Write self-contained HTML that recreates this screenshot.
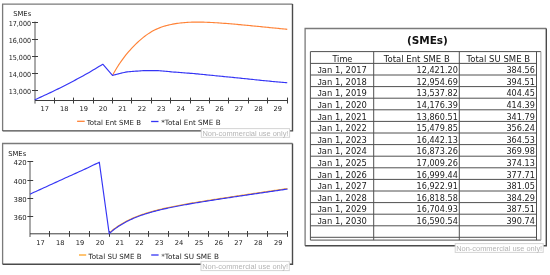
<!DOCTYPE html>
<html><head><meta charset="utf-8"><title>SMEs</title>
<style>html,body{margin:0;padding:0;background:#fff;width:550px;height:275px;overflow:hidden}</style>
</head><body>
<svg width="550" height="275" viewBox="0 0 550 275" style="position:absolute;left:0;top:0" font-family="&#39;DejaVu Sans&#39;, &#39;Liberation Sans&#39;, sans-serif" font-size="7" fill="#1a1a1a">
<rect x="0" y="0" width="550" height="275" fill="#ffffff"/>
<path d="M2.6,130.9 L2.6,4.1 L292.5,4.1" fill="none" stroke="#7a7a7a" stroke-width="1.3"/>
<path d="M292.5,4.1 L292.5,130.9 L2.6,130.9" fill="none" stroke="#4a4a4a" stroke-width="1.4"/>
<path d="M2.6,264.3 L2.6,143.5 L292.5,143.5" fill="none" stroke="#7a7a7a" stroke-width="1.3"/>
<path d="M292.5,143.5 L292.5,264.3 L2.6,264.3" fill="none" stroke="#4a4a4a" stroke-width="1.4"/>
<path d="M305.1,245.8 L305.1,28.5 L546.3,28.5" fill="none" stroke="#7a7a7a" stroke-width="1.3"/>
<path d="M546.3,28.5 L546.3,245.8 L305.1,245.8" fill="none" stroke="#4a4a4a" stroke-width="1.4"/>
<line x1="35.0" y1="21.6" x2="35.0" y2="103.6" stroke="#555" stroke-width="1"/>
<line x1="35" y1="100.5" x2="287.6" y2="100.5" stroke="#3c3c3c" stroke-width="1"/>
<line x1="32" y1="22.5" x2="38" y2="22.5" stroke="#3c3c3c" stroke-width="1"/>
<text x="31.0" y="25.6" text-anchor="end" textLength="22.3" lengthAdjust="spacingAndGlyphs">17,000</text>
<line x1="32" y1="39.5" x2="38" y2="39.5" stroke="#3c3c3c" stroke-width="1"/>
<text x="31.0" y="42.6" text-anchor="end" textLength="22.3" lengthAdjust="spacingAndGlyphs">16,000</text>
<line x1="32" y1="56.5" x2="38" y2="56.5" stroke="#3c3c3c" stroke-width="1"/>
<text x="31.0" y="59.6" text-anchor="end" textLength="22.3" lengthAdjust="spacingAndGlyphs">15,000</text>
<line x1="32" y1="73.5" x2="38" y2="73.5" stroke="#3c3c3c" stroke-width="1"/>
<text x="31.0" y="76.6" text-anchor="end" textLength="22.3" lengthAdjust="spacingAndGlyphs">14,000</text>
<line x1="32" y1="90.5" x2="38" y2="90.5" stroke="#3c3c3c" stroke-width="1"/>
<text x="31.0" y="93.6" text-anchor="end" textLength="22.3" lengthAdjust="spacingAndGlyphs">13,000</text>
<line x1="54.5" y1="97.6" x2="54.5" y2="103.5" stroke="#3c3c3c" stroke-width="1"/>
<line x1="73.5" y1="97.6" x2="73.5" y2="103.5" stroke="#3c3c3c" stroke-width="1"/>
<line x1="93.5" y1="97.6" x2="93.5" y2="103.5" stroke="#3c3c3c" stroke-width="1"/>
<line x1="112.5" y1="97.6" x2="112.5" y2="103.5" stroke="#3c3c3c" stroke-width="1"/>
<line x1="131.5" y1="97.6" x2="131.5" y2="103.5" stroke="#3c3c3c" stroke-width="1"/>
<line x1="151.5" y1="97.6" x2="151.5" y2="103.5" stroke="#3c3c3c" stroke-width="1"/>
<line x1="170.5" y1="97.6" x2="170.5" y2="103.5" stroke="#3c3c3c" stroke-width="1"/>
<line x1="190.5" y1="97.6" x2="190.5" y2="103.5" stroke="#3c3c3c" stroke-width="1"/>
<line x1="209.5" y1="97.6" x2="209.5" y2="103.5" stroke="#3c3c3c" stroke-width="1"/>
<line x1="228.5" y1="97.6" x2="228.5" y2="103.5" stroke="#3c3c3c" stroke-width="1"/>
<line x1="248.5" y1="97.6" x2="248.5" y2="103.5" stroke="#3c3c3c" stroke-width="1"/>
<line x1="267.5" y1="97.6" x2="267.5" y2="103.5" stroke="#3c3c3c" stroke-width="1"/>
<line x1="287.5" y1="97.6" x2="287.5" y2="103.5" stroke="#3c3c3c" stroke-width="1"/>
<text x="44.81" y="111.3" font-size="6.7" text-anchor="middle">17</text>
<text x="64.23" y="111.3" font-size="6.7" text-anchor="middle">18</text>
<text x="83.65" y="111.3" font-size="6.7" text-anchor="middle">19</text>
<text x="103.07" y="111.3" font-size="6.7" text-anchor="middle">20</text>
<text x="122.49" y="111.3" font-size="6.7" text-anchor="middle">21</text>
<text x="141.91" y="111.3" font-size="6.7" text-anchor="middle">22</text>
<text x="161.33" y="111.3" font-size="6.7" text-anchor="middle">23</text>
<text x="180.75" y="111.3" font-size="6.7" text-anchor="middle">24</text>
<text x="200.17" y="111.3" font-size="6.7" text-anchor="middle">25</text>
<text x="219.59" y="111.3" font-size="6.7" text-anchor="middle">26</text>
<text x="239.01" y="111.3" font-size="6.7" text-anchor="middle">27</text>
<text x="258.43" y="111.3" font-size="6.7" text-anchor="middle">28</text>
<text x="277.85" y="111.3" font-size="6.7" text-anchor="middle">29</text>
<text x="22.2" y="15.8" font-size="6.8" text-anchor="middle">SMEs</text>
<line x1="77.1" y1="121.3" x2="84.7" y2="121.3" stroke="#ff8236" stroke-width="1.3"/>
<text x="86.7" y="125.0">Total Ent SME B</text>
<line x1="151.1" y1="121.5" x2="158.5" y2="121.5" stroke="#3535f5" stroke-width="1.3"/>
<text x="161.2" y="125.0" font-size="7.2">*Total Ent SME B</text>
<path d="M112.48,75.46 L113.95,72.77 L115.42,70.21 L116.89,67.77 L118.35,65.44 L119.82,63.21 L121.29,61.08 L122.76,59.05 L124.23,57.10 L125.70,55.23 L127.17,53.44 L128.64,51.71 L130.10,50.05 L131.57,48.44 L133.04,46.88 L134.51,45.37 L135.98,43.91 L137.45,42.50 L138.92,41.15 L140.39,39.84 L141.85,38.59 L143.32,37.39 L144.79,36.24 L146.26,35.15 L147.73,34.12 L149.20,33.14 L150.67,32.22 L152.14,31.36 L153.60,30.55 L155.07,29.80 L156.54,29.11 L158.01,28.46 L159.48,27.86 L160.95,27.30 L162.42,26.79 L163.89,26.31 L165.35,25.88 L166.82,25.47 L168.29,25.10 L169.76,24.76 L171.23,24.44 L172.70,24.15 L174.17,23.88 L175.64,23.63 L177.10,23.41 L178.57,23.20 L180.04,23.02 L181.51,22.86 L182.98,22.71 L184.45,22.59 L185.92,22.48 L187.39,22.38 L188.85,22.30 L190.32,22.24 L191.79,22.19 L193.26,22.15 L194.73,22.12 L196.20,22.11 L197.67,22.10 L199.14,22.11 L200.60,22.13 L202.07,22.15 L203.54,22.19 L205.01,22.23 L206.48,22.28 L207.95,22.34 L209.42,22.40 L210.89,22.47 L212.35,22.55 L213.82,22.63 L215.29,22.71 L216.76,22.80 L218.23,22.90 L219.70,23.00 L221.17,23.10 L222.64,23.20 L224.10,23.31 L225.57,23.43 L227.04,23.54 L228.51,23.66 L229.98,23.78 L231.45,23.91 L232.92,24.03 L234.39,24.16 L235.85,24.29 L237.32,24.42 L238.79,24.56 L240.26,24.69 L241.73,24.83 L243.20,24.97 L244.67,25.11 L246.14,25.25 L247.60,25.39 L249.07,25.53 L250.54,25.67 L252.01,25.82 L253.48,25.96 L254.95,26.10 L256.42,26.25 L257.89,26.39 L259.35,26.54 L260.82,26.69 L262.29,26.83 L263.76,26.98 L265.23,27.13 L266.70,27.27 L268.17,27.42 L269.64,27.57 L271.10,27.71 L272.57,27.86 L274.04,28.00 L275.51,28.15 L276.98,28.30 L278.45,28.44 L279.92,28.59 L281.39,28.74 L282.85,28.88 L284.32,29.03 L285.79,29.17 L287.26,29.32" fill="none" stroke="#ff8236" stroke-width="1.15" stroke-linejoin="round"/>
<path d="M34.80,99.78 L36.74,98.90 L38.68,98.01 L40.63,97.13 L42.57,96.24 L44.51,95.34 L46.45,94.44 L48.39,93.54 L50.34,92.62 L52.28,91.70 L54.22,90.77 L56.16,89.82 L58.10,88.87 L60.05,87.91 L61.99,86.93 L63.93,85.95 L65.87,84.96 L67.81,83.96 L69.76,82.95 L71.70,81.93 L73.64,80.91 L75.58,79.88 L77.52,78.84 L79.47,77.79 L81.41,76.74 L83.35,75.67 L85.29,74.59 L87.23,73.49 L89.18,72.38 L91.12,71.26 L93.06,70.12 L95.00,68.96 L96.94,67.79 L98.89,66.61 L100.83,65.42 L102.77,64.23 L112.48,75.46 L113.95,75.02 L115.42,74.60 L116.89,74.20 L118.35,73.83 L119.82,73.48 L121.29,73.13 L122.76,72.78 L124.23,72.46 L125.70,72.17 L127.17,71.93 L128.64,71.75 L130.10,71.61 L131.57,71.49 L133.04,71.38 L134.51,71.28 L135.98,71.19 L137.45,71.10 L138.92,71.00 L140.39,70.89 L141.85,70.78 L143.32,70.69 L144.79,70.63 L146.26,70.60 L147.73,70.60 L149.20,70.60 L150.67,70.60 L152.14,70.60 L153.60,70.60 L155.07,70.60 L156.54,70.62 L158.01,70.67 L159.48,70.76 L160.95,70.86 L162.42,70.98 L163.89,71.09 L165.35,71.20 L166.82,71.34 L168.29,71.49 L169.76,71.65 L171.23,71.81 L172.70,71.95 L174.17,72.08 L175.64,72.19 L177.10,72.30 L178.57,72.41 L180.04,72.52 L181.51,72.63 L182.98,72.74 L184.45,72.85 L185.92,72.96 L187.39,73.08 L188.85,73.19 L190.32,73.31 L191.79,73.43 L193.26,73.55 L194.73,73.68 L196.20,73.81 L197.67,73.94 L199.14,74.07 L200.60,74.21 L202.07,74.36 L203.54,74.51 L205.01,74.66 L206.48,74.81 L207.95,74.97 L209.42,75.11 L210.89,75.26 L212.35,75.41 L213.82,75.55 L215.29,75.70 L216.76,75.84 L218.23,75.99 L219.70,76.13 L221.17,76.28 L222.64,76.42 L224.10,76.57 L225.57,76.71 L227.04,76.86 L228.51,77.00 L229.98,77.15 L231.45,77.29 L232.92,77.44 L234.39,77.58 L235.85,77.72 L237.32,77.87 L238.79,78.01 L240.26,78.16 L241.73,78.31 L243.20,78.46 L244.67,78.61 L246.14,78.76 L247.60,78.91 L249.07,79.07 L250.54,79.23 L252.01,79.39 L253.48,79.55 L254.95,79.71 L256.42,79.87 L257.89,80.02 L259.35,80.17 L260.82,80.33 L262.29,80.47 L263.76,80.62 L265.23,80.76 L266.70,80.90 L268.17,81.04 L269.64,81.18 L271.10,81.32 L272.57,81.45 L274.04,81.59 L275.51,81.72 L276.98,81.85 L278.45,81.98 L279.92,82.11 L281.39,82.24 L282.85,82.37 L284.32,82.49 L285.79,82.61 L287.26,82.73" fill="none" stroke="#3535f5" stroke-width="1.15" stroke-linejoin="round"/>
<line x1="30.0" y1="161.5" x2="30.0" y2="237" stroke="#555" stroke-width="1"/>
<line x1="30" y1="233.8" x2="287.8" y2="233.8" stroke="#3c3c3c" stroke-width="1"/>
<line x1="27.4" y1="161.5" x2="33.2" y2="161.5" stroke="#3c3c3c" stroke-width="1"/>
<text x="26.7" y="164.7" font-size="6.9" text-anchor="end">420</text>
<line x1="27.4" y1="180.5" x2="33.2" y2="180.5" stroke="#3c3c3c" stroke-width="1"/>
<text x="26.7" y="183.7" font-size="6.9" text-anchor="end">400</text>
<line x1="27.4" y1="198.5" x2="33.2" y2="198.5" stroke="#3c3c3c" stroke-width="1"/>
<text x="26.7" y="201.7" font-size="6.9" text-anchor="end">380</text>
<line x1="27.4" y1="216.5" x2="33.2" y2="216.5" stroke="#3c3c3c" stroke-width="1"/>
<text x="26.7" y="219.7" font-size="6.9" text-anchor="end">360</text>
<line x1="49.5" y1="231" x2="49.5" y2="236.8" stroke="#3c3c3c" stroke-width="1"/>
<line x1="69.5" y1="231" x2="69.5" y2="236.8" stroke="#3c3c3c" stroke-width="1"/>
<line x1="89.5" y1="231" x2="89.5" y2="236.8" stroke="#3c3c3c" stroke-width="1"/>
<line x1="109.5" y1="231" x2="109.5" y2="236.8" stroke="#3c3c3c" stroke-width="1"/>
<line x1="129.5" y1="231" x2="129.5" y2="236.8" stroke="#3c3c3c" stroke-width="1"/>
<line x1="148.5" y1="231" x2="148.5" y2="236.8" stroke="#3c3c3c" stroke-width="1"/>
<line x1="168.5" y1="231" x2="168.5" y2="236.8" stroke="#3c3c3c" stroke-width="1"/>
<line x1="188.5" y1="231" x2="188.5" y2="236.8" stroke="#3c3c3c" stroke-width="1"/>
<line x1="208.5" y1="231" x2="208.5" y2="236.8" stroke="#3c3c3c" stroke-width="1"/>
<line x1="228.5" y1="231" x2="228.5" y2="236.8" stroke="#3c3c3c" stroke-width="1"/>
<line x1="247.5" y1="231" x2="247.5" y2="236.8" stroke="#3c3c3c" stroke-width="1"/>
<line x1="267.5" y1="231" x2="267.5" y2="236.8" stroke="#3c3c3c" stroke-width="1"/>
<line x1="287.5" y1="231" x2="287.5" y2="236.8" stroke="#3c3c3c" stroke-width="1"/>
<text x="40.48" y="244.8" font-size="6.7" text-anchor="middle">17</text>
<text x="60.29" y="244.8" font-size="6.7" text-anchor="middle">18</text>
<text x="80.09" y="244.8" font-size="6.7" text-anchor="middle">19</text>
<text x="99.9" y="244.8" font-size="6.7" text-anchor="middle">20</text>
<text x="119.71" y="244.8" font-size="6.7" text-anchor="middle">21</text>
<text x="139.51" y="244.8" font-size="6.7" text-anchor="middle">22</text>
<text x="159.32" y="244.8" font-size="6.7" text-anchor="middle">23</text>
<text x="179.12" y="244.8" font-size="6.7" text-anchor="middle">24</text>
<text x="198.93" y="244.8" font-size="6.7" text-anchor="middle">25</text>
<text x="218.74" y="244.8" font-size="6.7" text-anchor="middle">26</text>
<text x="238.54" y="244.8" font-size="6.7" text-anchor="middle">27</text>
<text x="258.35" y="244.8" font-size="6.7" text-anchor="middle">28</text>
<text x="278.16" y="244.8" font-size="6.7" text-anchor="middle">29</text>
<text x="17.2" y="155.8" font-size="6.8" text-anchor="middle">SMEs</text>
<line x1="79" y1="255" x2="86.2" y2="255" stroke="#ffa426" stroke-width="1.3"/>
<text x="88.6" y="258.7" font-size="7.1">Total SU SME B</text>
<line x1="151.2" y1="255" x2="158.6" y2="255" stroke="#3535f5" stroke-width="1.3"/>
<text x="161.2" y="258.7" font-size="7.25">*Total SU SME B</text>
<path d="M109.20,233.08 L110.49,231.95 L111.77,230.86 L113.05,229.82 L114.33,228.82 L115.62,227.87 L116.90,226.95 L118.18,226.07 L119.46,225.23 L120.75,224.42 L122.03,223.64 L123.31,222.89 L124.59,222.17 L125.88,221.48 L127.16,220.81 L128.44,220.17 L129.72,219.55 L131.00,218.95 L132.29,218.37 L133.57,217.81 L134.85,217.27 L136.13,216.75 L137.42,216.25 L138.70,215.76 L139.98,215.29 L141.26,214.83 L142.55,214.39 L143.83,213.96 L145.11,213.54 L146.39,213.13 L147.68,212.74 L148.96,212.35 L150.24,211.98 L151.52,211.61 L152.81,211.26 L154.09,210.91 L155.37,210.57 L156.65,210.24 L157.94,209.91 L159.22,209.60 L160.50,209.29 L161.78,208.98 L163.06,208.68 L164.35,208.39 L165.63,208.10 L166.91,207.82 L168.19,207.55 L169.48,207.27 L170.76,207.00 L172.04,206.74 L173.32,206.48 L174.61,206.23 L175.89,205.97 L177.17,205.72 L178.45,205.48 L179.74,205.23 L181.02,204.99 L182.30,204.76 L183.58,204.52 L184.87,204.29 L186.15,204.06 L187.43,203.83 L188.71,203.61 L190.00,203.38 L191.28,203.16 L192.56,202.94 L193.84,202.72 L195.12,202.51 L196.41,202.29 L197.69,202.08 L198.97,201.87 L200.25,201.66 L201.54,201.45 L202.82,201.24 L204.10,201.03 L205.38,200.83 L206.67,200.62 L207.95,200.42 L209.23,200.21 L210.51,200.01 L211.80,199.81 L213.08,199.61 L214.36,199.41 L215.64,199.21 L216.93,199.01 L218.21,198.81 L219.49,198.62 L220.77,198.42 L222.06,198.22 L223.34,198.03 L224.62,197.83 L225.90,197.64 L227.19,197.45 L228.47,197.25 L229.75,197.06 L231.03,196.87 L232.31,196.67 L233.60,196.48 L234.88,196.29 L236.16,196.10 L237.44,195.91 L238.73,195.71 L240.01,195.52 L241.29,195.33 L242.57,195.14 L243.86,194.95 L245.14,194.76 L246.42,194.57 L247.70,194.38 L248.99,194.19 L250.27,194.01 L251.55,193.82 L252.83,193.63 L254.12,193.44 L255.40,193.25 L256.68,193.06 L257.96,192.87 L259.25,192.69 L260.53,192.50 L261.81,192.31 L263.09,192.12 L264.37,191.93 L265.66,191.75 L266.94,191.56 L268.22,191.37 L269.50,191.18 L270.79,191.00 L272.07,190.81 L273.35,190.62 L274.63,190.44 L275.92,190.25 L277.20,190.06 L278.48,189.88 L279.76,189.69 L281.05,189.50 L282.33,189.32 L283.61,189.13 L284.89,188.94 L286.18,188.76 L287.46,188.57" fill="none" stroke="#ffa426" stroke-width="1.15" stroke-linejoin="round"/>
<path d="M29.98,194.15 L31.96,193.25 L33.94,192.34 L35.92,191.44 L37.90,190.53 L39.88,189.63 L41.86,188.72 L43.84,187.82 L45.82,186.91 L47.81,186.00 L49.79,185.10 L51.77,184.19 L53.75,183.28 L55.73,182.37 L57.71,181.46 L59.69,180.56 L61.67,179.65 L63.65,178.75 L65.63,177.84 L67.61,176.95 L69.59,176.05 L71.57,175.16 L73.55,174.27 L75.53,173.38 L77.51,172.49 L79.50,171.59 L81.48,170.69 L83.46,169.78 L85.44,168.87 L87.42,167.94 L89.40,167.01 L91.38,166.05 L93.36,165.09 L95.34,164.12 L97.32,163.15 L99.30,162.17 L109.20,233.58 L110.49,232.45 L111.77,231.36 L113.05,230.32 L114.33,229.32 L115.62,228.37 L116.90,227.45 L118.18,226.57 L119.46,225.73 L120.75,224.92 L122.03,224.14 L123.31,223.39 L124.59,222.67 L125.88,221.98 L127.16,221.31 L128.44,220.67 L129.72,220.05 L131.00,219.45 L132.29,218.87 L133.57,218.31 L134.85,217.77 L136.13,217.25 L137.42,216.75 L138.70,216.26 L139.98,215.79 L141.26,215.33 L142.55,214.89 L143.83,214.46 L145.11,214.04 L146.39,213.63 L147.68,213.24 L148.96,212.85 L150.24,212.48 L151.52,212.11 L152.81,211.76 L154.09,211.41 L155.37,211.07 L156.65,210.74 L157.94,210.41 L159.22,210.10 L160.50,209.79 L161.78,209.48 L163.06,209.18 L164.35,208.89 L165.63,208.60 L166.91,208.32 L168.19,208.05 L169.48,207.77 L170.76,207.50 L172.04,207.24 L173.32,206.98 L174.61,206.73 L175.89,206.47 L177.17,206.22 L178.45,205.98 L179.74,205.73 L181.02,205.49 L182.30,205.26 L183.58,205.02 L184.87,204.79 L186.15,204.56 L187.43,204.33 L188.71,204.11 L190.00,203.88 L191.28,203.66 L192.56,203.44 L193.84,203.22 L195.12,203.01 L196.41,202.79 L197.69,202.58 L198.97,202.37 L200.25,202.16 L201.54,201.95 L202.82,201.74 L204.10,201.53 L205.38,201.33 L206.67,201.12 L207.95,200.92 L209.23,200.71 L210.51,200.51 L211.80,200.31 L213.08,200.11 L214.36,199.91 L215.64,199.71 L216.93,199.51 L218.21,199.31 L219.49,199.12 L220.77,198.92 L222.06,198.72 L223.34,198.53 L224.62,198.33 L225.90,198.14 L227.19,197.95 L228.47,197.75 L229.75,197.56 L231.03,197.37 L232.31,197.17 L233.60,196.98 L234.88,196.79 L236.16,196.60 L237.44,196.41 L238.73,196.21 L240.01,196.02 L241.29,195.83 L242.57,195.64 L243.86,195.45 L245.14,195.26 L246.42,195.07 L247.70,194.88 L248.99,194.69 L250.27,194.51 L251.55,194.32 L252.83,194.13 L254.12,193.94 L255.40,193.75 L256.68,193.56 L257.96,193.37 L259.25,193.19 L260.53,193.00 L261.81,192.81 L263.09,192.62 L264.37,192.43 L265.66,192.25 L266.94,192.06 L268.22,191.87 L269.50,191.68 L270.79,191.50 L272.07,191.31 L273.35,191.12 L274.63,190.94 L275.92,190.75 L277.20,190.56 L278.48,190.38 L279.76,190.19 L281.05,190.00 L282.33,189.82 L283.61,189.63 L284.89,189.44 L286.18,189.26 L287.46,189.07" fill="none" stroke="#3535f5" stroke-width="1.15" stroke-linejoin="round"/>
<text x="427.4" y="43.9" font-size="10.5" font-weight="bold" text-anchor="middle" fill="#111">(SMEs)</text>
<line x1="310.4" y1="51.6" x2="540.9" y2="51.6" stroke="#505050" stroke-width="1"/>
<line x1="310.4" y1="63.40" x2="536.5" y2="63.40" stroke="#505050" stroke-width="1"/>
<line x1="310.4" y1="75.00" x2="536.5" y2="75.00" stroke="#505050" stroke-width="1"/>
<line x1="310.4" y1="86.60" x2="536.5" y2="86.60" stroke="#505050" stroke-width="1"/>
<line x1="310.4" y1="98.20" x2="536.5" y2="98.20" stroke="#505050" stroke-width="1"/>
<line x1="310.4" y1="109.80" x2="536.5" y2="109.80" stroke="#505050" stroke-width="1"/>
<line x1="310.4" y1="121.40" x2="536.5" y2="121.40" stroke="#505050" stroke-width="1"/>
<line x1="310.4" y1="133.00" x2="536.5" y2="133.00" stroke="#505050" stroke-width="1"/>
<line x1="310.4" y1="144.60" x2="536.5" y2="144.60" stroke="#505050" stroke-width="1"/>
<line x1="310.4" y1="156.20" x2="536.5" y2="156.20" stroke="#505050" stroke-width="1"/>
<line x1="310.4" y1="167.80" x2="536.5" y2="167.80" stroke="#505050" stroke-width="1"/>
<line x1="310.4" y1="179.40" x2="536.5" y2="179.40" stroke="#505050" stroke-width="1"/>
<line x1="310.4" y1="191.00" x2="536.5" y2="191.00" stroke="#505050" stroke-width="1"/>
<line x1="310.4" y1="202.60" x2="536.5" y2="202.60" stroke="#505050" stroke-width="1"/>
<line x1="310.4" y1="214.20" x2="536.5" y2="214.20" stroke="#505050" stroke-width="1"/>
<line x1="310.4" y1="225.80" x2="536.5" y2="225.80" stroke="#505050" stroke-width="1"/>
<line x1="310.4" y1="237.30" x2="536.5" y2="237.30" stroke="#505050" stroke-width="1"/>
<line x1="310.4" y1="240.1" x2="540.9" y2="240.1" stroke="#505050" stroke-width="1"/>
<line x1="310.4" y1="51.6" x2="310.4" y2="240.1" stroke="#505050" stroke-width="1"/>
<line x1="373.7" y1="51.6" x2="373.7" y2="240.1" stroke="#505050" stroke-width="1"/>
<line x1="459.3" y1="51.6" x2="459.3" y2="240.1" stroke="#505050" stroke-width="1"/>
<line x1="536.5" y1="51.6" x2="536.5" y2="240.1" stroke="#505050" stroke-width="1"/>
<line x1="540.9" y1="51.6" x2="540.9" y2="240.1" stroke="#9a9a9a" stroke-width="1"/>
<text x="342.4" y="61.6" font-size="8.2" text-anchor="middle">Time</text>
<text x="416.8" y="61.6" font-size="8.5" text-anchor="middle">Total Ent SME B</text>
<text x="498.3" y="61.6" font-size="8.5" text-anchor="middle">Total SU SME B</text>
<text x="342.2" y="73.2" font-size="8.4" text-anchor="middle"><tspan font-family="Liberation Sans, sans-serif" font-size="8.6">J</tspan>an 1, 2017</text>
<text x="457.8" y="73.2" font-size="8.1" text-anchor="end">12,421.20</text>
<text x="534.8" y="73.2" font-size="8.1" text-anchor="end">384.56</text>
<text x="342.2" y="84.8" font-size="8.4" text-anchor="middle"><tspan font-family="Liberation Sans, sans-serif" font-size="8.6">J</tspan>an 1, 2018</text>
<text x="457.8" y="84.8" font-size="8.1" text-anchor="end">12,954.69</text>
<text x="534.8" y="84.8" font-size="8.1" text-anchor="end">394.51</text>
<text x="342.2" y="96.4" font-size="8.4" text-anchor="middle"><tspan font-family="Liberation Sans, sans-serif" font-size="8.6">J</tspan>an 1, 2019</text>
<text x="457.8" y="96.4" font-size="8.1" text-anchor="end">13,537.82</text>
<text x="534.8" y="96.4" font-size="8.1" text-anchor="end">404.45</text>
<text x="342.2" y="108.0" font-size="8.4" text-anchor="middle"><tspan font-family="Liberation Sans, sans-serif" font-size="8.6">J</tspan>an 1, 2020</text>
<text x="457.8" y="108.0" font-size="8.1" text-anchor="end">14,176.39</text>
<text x="534.8" y="108.0" font-size="8.1" text-anchor="end">414.39</text>
<text x="342.2" y="119.6" font-size="8.4" text-anchor="middle"><tspan font-family="Liberation Sans, sans-serif" font-size="8.6">J</tspan>an 1, 2021</text>
<text x="457.8" y="119.6" font-size="8.1" text-anchor="end">13,860.51</text>
<text x="534.8" y="119.6" font-size="8.1" text-anchor="end">341.79</text>
<text x="342.2" y="131.2" font-size="8.4" text-anchor="middle"><tspan font-family="Liberation Sans, sans-serif" font-size="8.6">J</tspan>an 1, 2022</text>
<text x="457.8" y="131.2" font-size="8.1" text-anchor="end">15,479.85</text>
<text x="534.8" y="131.2" font-size="8.1" text-anchor="end">356.24</text>
<text x="342.2" y="142.8" font-size="8.4" text-anchor="middle"><tspan font-family="Liberation Sans, sans-serif" font-size="8.6">J</tspan>an 1, 2023</text>
<text x="457.8" y="142.8" font-size="8.1" text-anchor="end">16,442.13</text>
<text x="534.8" y="142.8" font-size="8.1" text-anchor="end">364.53</text>
<text x="342.2" y="154.4" font-size="8.4" text-anchor="middle"><tspan font-family="Liberation Sans, sans-serif" font-size="8.6">J</tspan>an 1, 2024</text>
<text x="457.8" y="154.4" font-size="8.1" text-anchor="end">16,873.26</text>
<text x="534.8" y="154.4" font-size="8.1" text-anchor="end">369.98</text>
<text x="342.2" y="166.0" font-size="8.4" text-anchor="middle"><tspan font-family="Liberation Sans, sans-serif" font-size="8.6">J</tspan>an 1, 2025</text>
<text x="457.8" y="166.0" font-size="8.1" text-anchor="end">17,009.26</text>
<text x="534.8" y="166.0" font-size="8.1" text-anchor="end">374.13</text>
<text x="342.2" y="177.6" font-size="8.4" text-anchor="middle"><tspan font-family="Liberation Sans, sans-serif" font-size="8.6">J</tspan>an 1, 2026</text>
<text x="457.8" y="177.6" font-size="8.1" text-anchor="end">16,999.44</text>
<text x="534.8" y="177.6" font-size="8.1" text-anchor="end">377.71</text>
<text x="342.2" y="189.2" font-size="8.4" text-anchor="middle"><tspan font-family="Liberation Sans, sans-serif" font-size="8.6">J</tspan>an 1, 2027</text>
<text x="457.8" y="189.2" font-size="8.1" text-anchor="end">16,922.91</text>
<text x="534.8" y="189.2" font-size="8.1" text-anchor="end">381.05</text>
<text x="342.2" y="200.8" font-size="8.4" text-anchor="middle"><tspan font-family="Liberation Sans, sans-serif" font-size="8.6">J</tspan>an 1, 2028</text>
<text x="457.8" y="200.8" font-size="8.1" text-anchor="end">16,818.58</text>
<text x="534.8" y="200.8" font-size="8.1" text-anchor="end">384.29</text>
<text x="342.2" y="212.4" font-size="8.4" text-anchor="middle"><tspan font-family="Liberation Sans, sans-serif" font-size="8.6">J</tspan>an 1, 2029</text>
<text x="457.8" y="212.4" font-size="8.1" text-anchor="end">16,704.93</text>
<text x="534.8" y="212.4" font-size="8.1" text-anchor="end">387.51</text>
<text x="342.2" y="224.0" font-size="8.4" text-anchor="middle"><tspan font-family="Liberation Sans, sans-serif" font-size="8.6">J</tspan>an 1, 2030</text>
<text x="457.8" y="224.0" font-size="8.1" text-anchor="end">16,590.54</text>
<text x="534.8" y="224.0" font-size="8.1" text-anchor="end">390.74</text>
<rect x="201.3" y="128.6" width="88.3" height="8.7" fill="#ffffff" stroke="#d4d4d4" stroke-width="1"/><text x="245.45" y="135.5" font-family="'Liberation Sans', Arial, sans-serif" font-size="7.45" text-anchor="middle" fill="#b4b4b4">Non-commercial use only!</text>
<rect x="201.0" y="261.4" width="88.3" height="9.2" fill="#ffffff" stroke="#d4d4d4" stroke-width="1"/><text x="245.15" y="268.8" font-family="'Liberation Sans', Arial, sans-serif" font-size="7.45" text-anchor="middle" fill="#b4b4b4">Non-commercial use only!</text>
<rect x="455.2" y="243.6" width="88.0" height="8.8" fill="#ffffff" stroke="#d4d4d4" stroke-width="1"/><text x="499.2" y="250.6" font-family="'Liberation Sans', Arial, sans-serif" font-size="7.45" text-anchor="middle" fill="#b4b4b4">Non-commercial use only!</text>
</svg>
</body></html>
